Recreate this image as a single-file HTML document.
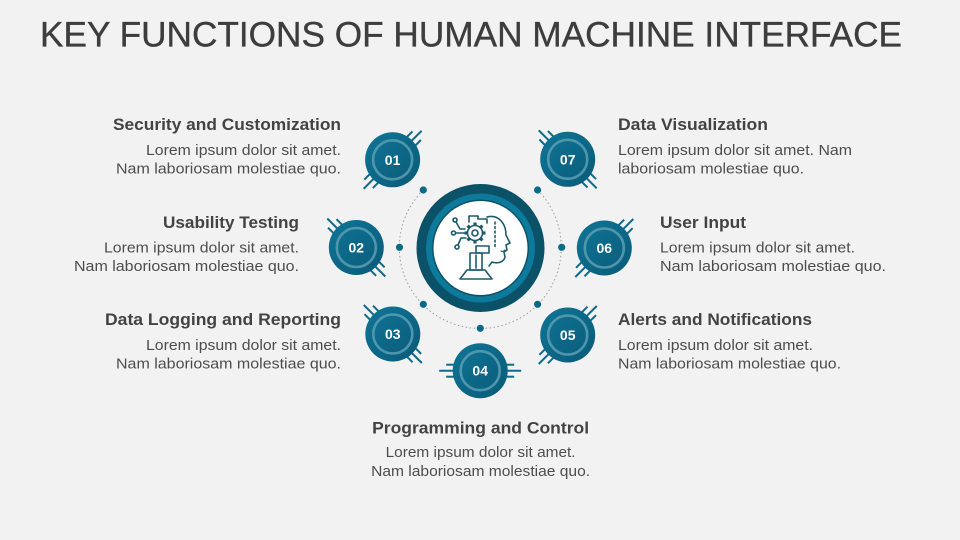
<!DOCTYPE html>
<html>
<head>
<meta charset="utf-8">
<style>
  html,body{margin:0;padding:0;background:#f2f2f2;}
  svg{display:block;}
  text{font-family:"Liberation Sans", sans-serif;}
</style>
</head>
<body>
<svg width="960" height="540" viewBox="0 0 960 540" xmlns="http://www.w3.org/2000/svg">
  <defs>
    <linearGradient id="badge" x1="0" y1="0" x2="1" y2="1">
      <stop offset="0" stop-color="#0f7596"/>
      <stop offset="1" stop-color="#0a5a78"/>
    </linearGradient>
    <g id="motion">
      <line x1="-22" y1="-6" x2="-34" y2="-6"/>
      <line x1="-22" y1="0" x2="-41" y2="0"/>
      <line x1="-22" y1="6" x2="-34" y2="6"/>
      <line x1="22" y1="-6" x2="34" y2="-6"/>
      <line x1="22" y1="0" x2="41" y2="0"/>
      <line x1="22" y1="6" x2="34" y2="6"/>
    </g>
    <g id="badgeShape">
      <circle r="27.5" fill="url(#badge)"/>
      <circle r="19.5" fill="none" stroke="#5a9fb5" stroke-width="2.6" opacity="0.85"/>
    </g>
  </defs>

  <rect width="960" height="540" fill="#f2f2f2"/>

  <!-- Title -->
  <text x="40" y="46.5" font-size="35" fill="#3d3d3d" stroke="#3d3d3d" stroke-width="0.35" textLength="862" lengthAdjust="spacingAndGlyphs">KEY FUNCTIONS OF HUMAN MACHINE INTERFACE</text>

  <!-- Dotted arc -->
  <path d="M 423,190.2 A 81 81 0 1 0 537.6,190.2" fill="none" stroke="#9a9a9a" stroke-width="1" stroke-dasharray="1.5 2.5"/>
  <g fill="#0b6a8a">
    <circle cx="423.3" cy="190" r="3.6"/>
    <circle cx="537.6" cy="190" r="3.6"/>
    <circle cx="399.5" cy="247.3" r="3.6"/>
    <circle cx="561.7" cy="247.3" r="3.6"/>
    <circle cx="423.3" cy="304.3" r="3.6"/>
    <circle cx="537.6" cy="304.3" r="3.6"/>
    <circle cx="480.3" cy="328.3" r="3.6"/>
  </g>

  <!-- Central circle -->
  <circle cx="480.5" cy="248" r="64" fill="#0b5269"/>
  <circle cx="480.5" cy="248" r="54.5" fill="#0d7a9b"/>
  <circle cx="480.5" cy="248" r="48.5" fill="#0b5269"/>
  <circle cx="480.5" cy="248" r="47" fill="#ffffff"/>

  <!-- Icon -->
  <g fill="none" stroke="#1d5a6b" stroke-width="1.6" stroke-linejoin="round" stroke-linecap="round">
    <!-- gear -->
    <g transform="translate(475,233)">
      <circle r="7.5"/>
      <circle r="3"/>
      <g stroke-width="3.2" stroke-linecap="butt">
        <line x1="0" y1="-7.5" x2="0" y2="-10.5"/>
        <line x1="0" y1="7.5" x2="0" y2="10.5"/>
        <line x1="-7.5" y1="0" x2="-10.5" y2="0"/>
        <line x1="7.5" y1="0" x2="10.5" y2="0"/>
        <line x1="5.3" y1="5.3" x2="7.4" y2="7.4"/>
        <line x1="-5.3" y1="5.3" x2="-7.4" y2="7.4"/>
        <line x1="5.3" y1="-5.3" x2="7.4" y2="-7.4"/>
        <line x1="-5.3" y1="-5.3" x2="-7.4" y2="-7.4"/>
      </g>
    </g>
    <!-- circuit lines -->
    <polyline points="465,229 460,229 456,222"/>
    <circle cx="455" cy="220" r="2"/>
    <line x1="464.5" y1="233" x2="456" y2="233"/>
    <circle cx="453.5" cy="233" r="2"/>
    <polyline points="466,238 461,238 458,245"/>
    <circle cx="457" cy="247" r="2"/>
    <!-- top puzzle piece -->
    <polyline points="469,222 469,216 478,216 478,219 487,219 487,223"/>
    <!-- head -->
    <path d="M487,217 C499,214 506,224 506,235 L510,243 L506,245 L507,250 L504,252 L505,257 C504,262 498,264 492,262 L489,266"/>
    <line x1="495" y1="222" x2="495" y2="248" stroke-dasharray="2 2.5"/>
    <path d="M501,251 C503,252 504,251 505,250" stroke-width="1.2"/>
    <!-- chip -->
    <rect x="476" y="246" width="13" height="7"/>
    <!-- body -->
    <rect x="470" y="253" width="12" height="17"/>
    <line x1="476" y1="255" x2="476" y2="268"/>
    <path d="M460,279 L467,270 L485,270 L492,279 Z"/>
  </g>

  <!-- Badges -->
  <g stroke="#0d6a8a" stroke-width="2" stroke-linecap="butt">
    <use href="#motion" transform="translate(392.6,159.8) rotate(-45)"/>
    <use href="#motion" transform="translate(356.3,247.5) rotate(45)"/>
    <use href="#motion" transform="translate(392.8,334) rotate(45)"/>
    <use href="#motion" transform="translate(480.2,370.7)"/>
    <use href="#motion" transform="translate(567.7,335) rotate(-45)"/>
    <use href="#motion" transform="translate(604.3,248) rotate(-45)"/>
    <use href="#motion" transform="translate(567.7,159.3) rotate(45)"/>
  </g>
  <use href="#badgeShape" transform="translate(392.6,159.8)"/>
  <use href="#badgeShape" transform="translate(356.3,247.5)"/>
  <use href="#badgeShape" transform="translate(392.8,334)"/>
  <use href="#badgeShape" transform="translate(480.2,370.7)"/>
  <use href="#badgeShape" transform="translate(567.7,335)"/>
  <use href="#badgeShape" transform="translate(604.3,248)"/>
  <use href="#badgeShape" transform="translate(567.7,159.3)"/>

  <g font-size="14" font-weight="bold" fill="#ffffff" text-anchor="middle">
    <text x="392.6" y="164.8">01</text>
    <text x="356.3" y="252.5">02</text>
    <text x="392.8" y="339">03</text>
    <text x="480.2" y="375.7">04</text>
    <text x="567.7" y="340">05</text>
    <text x="604.3" y="253">06</text>
    <text x="567.7" y="164.3">07</text>
  </g>

  <!-- Left texts -->
  <g text-anchor="end">
    <text x="341" y="130" font-size="17" font-weight="bold" fill="#434343" textLength="228" lengthAdjust="spacingAndGlyphs">Security and Customization</text>
    <text x="341" y="155" font-size="15" fill="#4d4d4d" textLength="195" lengthAdjust="spacingAndGlyphs">Lorem ipsum dolor sit amet.</text>
    <text x="341" y="173.5" font-size="15" fill="#4d4d4d" textLength="225" lengthAdjust="spacingAndGlyphs">Nam laboriosam molestiae quo.</text>

    <text x="299" y="228" font-size="17" font-weight="bold" fill="#434343" textLength="136" lengthAdjust="spacingAndGlyphs">Usability Testing</text>
    <text x="299" y="252.5" font-size="15" fill="#4d4d4d" textLength="195" lengthAdjust="spacingAndGlyphs">Lorem ipsum dolor sit amet.</text>
    <text x="299" y="271" font-size="15" fill="#4d4d4d" textLength="225" lengthAdjust="spacingAndGlyphs">Nam laboriosam molestiae quo.</text>

    <text x="341" y="325" font-size="17" font-weight="bold" fill="#434343" textLength="236" lengthAdjust="spacingAndGlyphs">Data Logging and Reporting</text>
    <text x="341" y="350" font-size="15" fill="#4d4d4d" textLength="195" lengthAdjust="spacingAndGlyphs">Lorem ipsum dolor sit amet.</text>
    <text x="341" y="368.3" font-size="15" fill="#4d4d4d" textLength="225" lengthAdjust="spacingAndGlyphs">Nam laboriosam molestiae quo.</text>
  </g>

  <!-- Right texts -->
  <g text-anchor="start">
    <text x="618" y="130" font-size="17" font-weight="bold" fill="#434343" textLength="150" lengthAdjust="spacingAndGlyphs">Data Visualization</text>
    <text x="618" y="155" font-size="15" fill="#4d4d4d" textLength="234" lengthAdjust="spacingAndGlyphs">Lorem ipsum dolor sit amet. Nam</text>
    <text x="618" y="173.5" font-size="15" fill="#4d4d4d" textLength="186" lengthAdjust="spacingAndGlyphs">laboriosam molestiae quo.</text>

    <text x="660" y="228" font-size="17" font-weight="bold" fill="#434343" textLength="86" lengthAdjust="spacingAndGlyphs">User Input</text>
    <text x="660" y="252.5" font-size="15" fill="#4d4d4d" textLength="195" lengthAdjust="spacingAndGlyphs">Lorem ipsum dolor sit amet.</text>
    <text x="660" y="271" font-size="15" fill="#4d4d4d" textLength="226" lengthAdjust="spacingAndGlyphs">Nam laboriosam molestiae quo.</text>

    <text x="618" y="325" font-size="17" font-weight="bold" fill="#434343" textLength="194" lengthAdjust="spacingAndGlyphs">Alerts and Notifications</text>
    <text x="618" y="350" font-size="15" fill="#4d4d4d" textLength="195" lengthAdjust="spacingAndGlyphs">Lorem ipsum dolor sit amet.</text>
    <text x="618" y="368.3" font-size="15" fill="#4d4d4d" textLength="223" lengthAdjust="spacingAndGlyphs">Nam laboriosam molestiae quo.</text>
  </g>

  <!-- Bottom text -->
  <g text-anchor="middle">
    <text x="480.6" y="433.3" font-size="16.5" font-weight="bold" fill="#434343" textLength="217" lengthAdjust="spacingAndGlyphs">Programming and Control</text>
    <text x="480.6" y="457" font-size="15" fill="#4d4d4d" textLength="190" lengthAdjust="spacingAndGlyphs">Lorem ipsum dolor sit amet.</text>
    <text x="480.6" y="475.8" font-size="15" fill="#4d4d4d" textLength="219" lengthAdjust="spacingAndGlyphs">Nam laboriosam molestiae quo.</text>
  </g>
</svg>
</body>
</html>
